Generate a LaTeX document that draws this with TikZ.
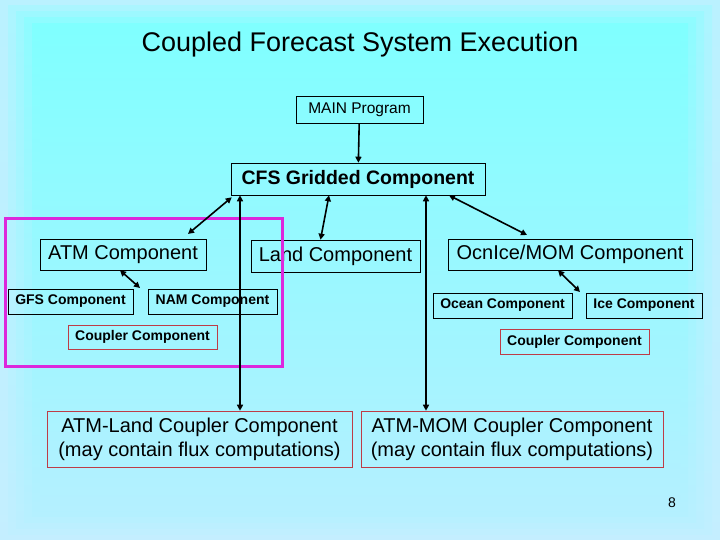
\documentclass[tikz,border=0pt]{standalone}
\usepackage{fontspec}
\setmainfont{Liberation Sans}
\usetikzlibrary{arrows.meta}
\definecolor{bgedge}{RGB}{200,238,255}
\definecolor{bgtop}{RGB}{128,255,255}
\definecolor{bgbot}{RGB}{180,240,255}
\definecolor{redb}{RGB}{190,60,70}
\definecolor{mag}{RGB}{220,40,220}
\begin{document}
\begin{tikzpicture}[x=1pt,y=-1pt,
  box/.style={draw=black,line width=0.6pt,inner sep=0pt},
  big/.style={box,font=\fontsize{20}{23}\selectfont},
  small/.style={box,font=\bfseries\fontsize{14}{16}\selectfont},
  arr/.style={line width=1.6pt,-{Triangle[length=6pt,width=6pt]}},
  darr/.style={line width=1.6pt,{Triangle[length=6pt,width=6pt]}-{Triangle[length=6pt,width=6pt]}}]
\useasboundingbox (0,0) rectangle (720,540);
\fill[bgedge] (0,0) rectangle (720,540);
\foreach \i/\m in {0/20,1/40,2/60,3/80,4/100}{
  \shade[top color=bgtop!\m!bgedge,bottom color=bgbot!\m!bgedge] (8*\i,6*\i) rectangle (720-8*\i,540-6*\i);}
\shade[top color=bgtop,bottom color=bgbot] (40,30) rectangle (680,510);
\node[font=\fontsize{27}{31}\selectfont] (title) at (360,45) {Coupled Forecast System Execution};
\node[box,minimum width=127pt,minimum height=27pt,font=\fontsize{15.5}{18}\selectfont] (main) at (359.5,109.5) {MAIN Program};
\node[box,minimum width=254pt,minimum height=32pt,font=\bfseries\fontsize{19.5}{22}\selectfont] (cfs) at (358,179) {CFS Gridded Component};
\node[big,minimum width=166pt,minimum height=31pt] (atm) at (123,254.5) {ATM Component};
\node[big,minimum width=169pt,minimum height=32pt] (land) at (335.5,256) {Land Component};
\node[big,minimum width=244pt,minimum height=31pt] (ocn) at (570,254.5) {OcnIce/MOM Component};
\node[small,minimum width=125pt,minimum height=25pt] (gfs) at (70.5,301.5) {GFS Component};
\node[small,minimum width=129pt,minimum height=25pt] (nam) at (212.5,301.5) {NAM Component};
\node[small,draw=redb,minimum width=149pt,minimum height=24pt] (cpl1) at (142.5,337) {Coupler Component};
\node[small,minimum width=139pt,minimum height=25pt] (oce) at (502.5,305.5) {Ocean Component};
\node[small,minimum width=116pt,minimum height=25pt] (ice) at (644,305.5) {Ice Component};
\node[small,draw=redb,minimum width=149pt,minimum height=25pt] (cpl2) at (574.5,341.5) {Coupler Component};
\node[big,draw=redb,minimum width=305pt,minimum height=56pt,align=center,font=\fontsize{20}{24}\selectfont] (al) at (199.5,439) {ATM-Land Coupler Component\\(may contain flux computations)};
\node[big,draw=redb,minimum width=302pt,minimum height=56pt,align=center,font=\fontsize{20}{24}\selectfont] (am) at (512,439) {ATM-MOM Coupler Component\\(may contain flux computations)};
\draw[mag,line width=3pt] (5,219) rectangle (282,366);
\node[font=\fontsize{14}{16}\selectfont] (pg) at (672,503) {8};
\draw[arr] (main) -- (cfs);
\coordinate (a1) at (188,234);
\coordinate (o1) at (527,235);
\coordinate (n1) at (140,288);
\coordinate (i1) at (580,292);
\draw[darr] ([shift={(1pt,-2pt)}]cfs.south west) -- (a1);
\draw[darr] ([xshift=-29pt]cfs.south) -- ([xshift=-15pt]land.north);
\draw[darr] ([xshift=91pt]cfs.south) -- (o1);
\draw[darr] ([xshift=-3pt]atm.south) -- (n1);
\draw[darr] ([xshift=-12pt]ocn.south) -- (i1);
\draw[darr] (cfs.south -| 240,0) -- (al.north -| 240,0);
\draw[darr] (cfs.south -| 426,0) -- (am.north -| 426,0);
\end{tikzpicture}
\end{document}
